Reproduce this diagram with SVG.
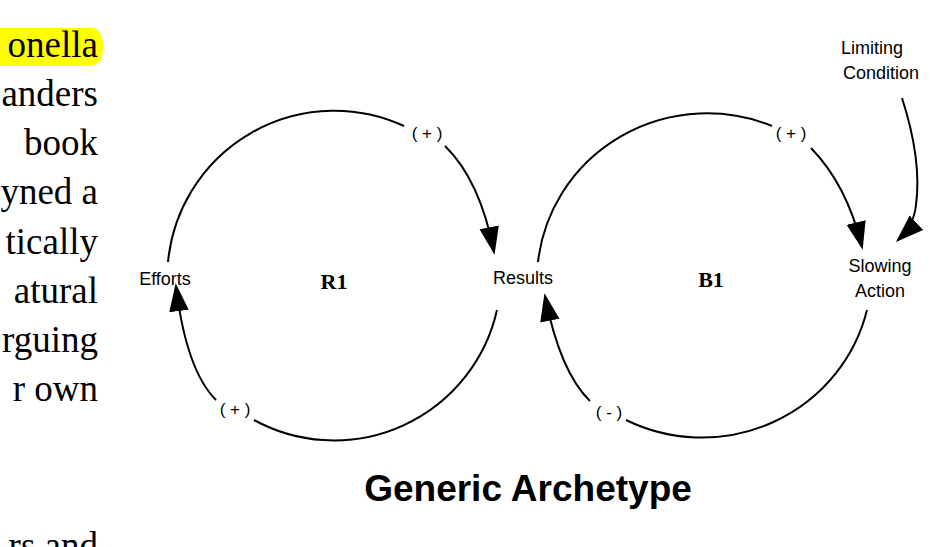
<svg xmlns="http://www.w3.org/2000/svg" width="943" height="547" viewBox="0 0 943 547">
<style>
.bt{font-family:"Liberation Serif",serif;font-size:37px;fill:#000;text-anchor:end}
.n{font-family:"Liberation Sans",Arial,sans-serif;font-size:18px;fill:#000;text-anchor:middle}
.p{font-family:"Liberation Sans",Arial,sans-serif;font-size:17px;fill:#000;text-anchor:middle}
.lp{font-family:"Liberation Serif",serif;font-weight:bold;font-size:22px;fill:#000;text-anchor:middle}
.c{fill:none;stroke:#000;stroke-width:2}
</style>
<defs>
<marker id="b" viewBox="0 0 10 10" refX="9" refY="5" markerWidth="28" markerHeight="28" markerUnits="userSpaceOnUse" orient="auto"><path d="M0,1.5L10,5L0,8.5z" fill="#000"/></marker></defs>
<rect width="943" height="547" fill="#fff"/>
<g id="page-text">
<path d="M0,28H90Q103,28 103,47Q103,66 90,66H0z" fill="#ffff00"/>
<text class="bt" x="98" y="57">onella</text>
<text class="bt" x="98" y="106">anders</text>
<text class="bt" x="98" y="155">book</text>
<text class="bt" x="98" y="204">yned a</text>
<text class="bt" x="98" y="254">tically</text>
<text class="bt" x="98" y="303">atural</text>
<text class="bt" x="98" y="352">rguing</text>
<text class="bt" x="98" y="401">r  own</text>
<text class="bt" x="98" y="558">rs and</text>
</g>
<g id="connectors">
<path class="c" d="M168,262 A167,167 0 0 1 404,126"/>
<path class="c" d="M445,146 Q480,180 494,252" marker-end="url(#b)"/>
<path class="c" d="M497,310 A167,167 0 0 1 254,420"/>
<path class="c" d="M216,400 Q186,370 176,286" marker-end="url(#b)"/>
<path class="c" d="M538,262 A170,167 0 0 1 772,126"/>
<path class="c" d="M811,148 Q847,185 862,247" marker-end="url(#b)"/>
<path class="c" d="M867,310 A170,167 0 0 1 626,420"/>
<path class="c" d="M590,401 Q560,372 545,296" marker-end="url(#b)"/>
<path class="c" d="M902,98 Q922,160 916,205 Q914,225 898,240" marker-end="url(#b)"/>
</g>
<g id="labels">
<text class="p" x="427" y="139">( + )</text>
<text class="p" x="235" y="415">( + )</text>
<text class="p" x="791" y="139">( + )</text>
<text class="p" x="609" y="418">( - )</text>
<text class="lp" x="334" y="289">R1</text>
<text class="lp" x="711" y="287">B1</text>
</g>
<g id="node-efforts"><text class="n" x="165" y="285">Efforts</text></g>
<g id="node-results"><text class="n" x="523" y="284">Results</text></g>
<g id="node-slowing"><text class="n" x="880" y="272">Slowing</text><text class="n" x="880" y="297">Action</text></g>
<g id="node-limiting"><text class="n" x="872" y="54">Limiting</text><text class="n" x="881" y="79">Condition</text></g>
<g id="title"><text x="528" y="501" style="font-family:'Liberation Sans',Arial,sans-serif;font-weight:bold;font-size:37px;text-anchor:middle">Generic Archetype</text></g>
</svg>
